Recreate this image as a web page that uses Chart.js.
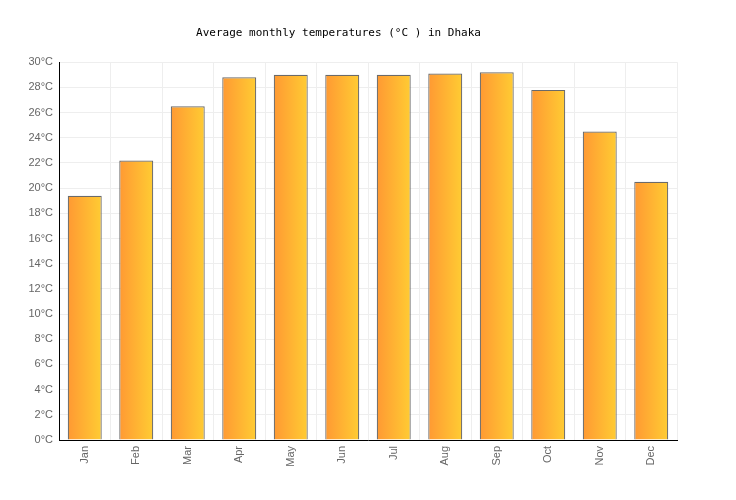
<!DOCTYPE html>
<html>
<head>
<meta charset="utf-8">
<script src="https://cdn.jsdelivr.net/npm/chart.js@4"></script>
<style>
  html, body { margin: 0; padding: 0; background: #fff; }
  #wrap { width: 736px; height: 500px; }
</style>
</head>
<body>
<div id="wrap"><canvas id="tempChart" width="736" height="500"></canvas></div>
<script>
const months = ['Jan', 'Feb', 'Mar', 'Apr', 'May', 'Jun', 'Jul', 'Aug', 'Sep', 'Oct', 'Nov', 'Dec'];
const temps = [19.4, 22.2, 26.5, 28.8, 29.0, 29.0, 29.0, 29.1, 29.2, 27.8, 24.5, 20.5];
const yMin = 0;
const yMax = 30;
const yStep = 2;

function barGradient(c) {
  const chart = c.chart;
  const x = chart.scales.x;
  if (!x || !chart.chartArea) return '#ffb233';
  const cx = x.getPixelForValue(c.dataIndex);
  const w = (x.width / months.length) * 0.66;
  const g = chart.ctx.createLinearGradient(cx - w / 2, 0, cx + w / 2, 0);
  g.addColorStop(0, '#ff9933');
  g.addColorStop(1, '#ffcc33');
  return g;
}

const tickFont = { family: 'Liberation Sans', size: 11 };

new Chart(document.getElementById('tempChart').getContext('2d'), {
  type: 'bar',
  data: {
    labels: months,
    datasets: [{
      label: 'Temperature',
      data: temps,
      backgroundColor: barGradient,
      borderColor: '#6a6a6a',
      borderWidth: 1.2,
      categoryPercentage: 1,
      barPercentage: 0.66
    }]
  },
  options: {
    responsive: false,
    animation: false,
    layout: { padding: { left: 0, right: 59, top: 0, bottom: 0 } },
    plugins: {
      legend: { display: false },
      tooltip: { enabled: false },
      title: {
        display: true,
        text: 'Average monthly temperatures (°C ) in Dhaka',
        color: '#000',
        font: { family: 'DejaVu Sans Mono', size: 11, weight: 'normal', lineHeight: 1.2 },
        padding: { top: 27, bottom: 22 }
      }
    },
    scales: {
      x: {
        grid: { color: '#eeeeee', drawTicks: false, offset: true },
        border: { color: '#000', width: 1 },
        ticks: {
          color: '#666',
          font: tickFont,
          padding: 6,
          minRotation: 90,
          maxRotation: 90
        },
        afterFit: s => { s.height = 60; }
      },
      y: {
        min: yMin,
        max: yMax,
        grid: { color: '#eeeeee', drawTicks: false },
        border: { color: '#000', width: 1 },
        ticks: {
          stepSize: yStep,
          color: '#666',
          font: tickFont,
          padding: 6,
          callback: v => v + '°C'
        },
        afterFit: s => { s.width = 59; }
      }
    }
  }
});
</script>
</body>
</html>
